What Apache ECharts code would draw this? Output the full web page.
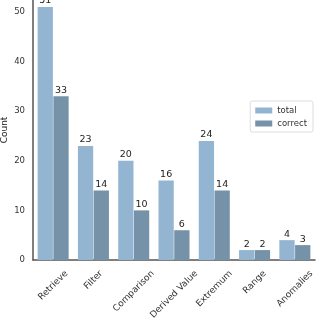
<!DOCTYPE html>
<html lang="en">
<head>
    <meta charset="UTF-8">
    <title>Count by task</title>
    <script src="https://cdn.jsdelivr.net/npm/echarts@6/dist/echarts.min.js"></script>
    <style>
        html, body { margin: 0; padding: 0; background: #fff; }
    </style>
</head>
<body>
    <div id="chart" style="width: 320px; height: 320px"></div>
    <script>
        var categories = ['Retrieve', 'Filter', 'Comparison', 'Derived Value', 'Extremum', 'Range', 'Anomalies'];
        var totalVals = [51, 23, 20, 16, 24, 2, 4];
        var correctVals = [33, 14, 10, 6, 14, 2, 3];
        var yTicks = [0, 10, 20, 30, 40, 50];

        var FONT = 'DejaVu Sans';
        var chart = echarts.init(document.getElementById('chart'));

        var labelStyle = {
            show: true,
            position: 'top',
            distance: 1,
            color: '#222',
            fontSize: 9.5,
            fontFamily: FONT
        };

        var option = {
            animation: false,
            textStyle: { fontFamily: FONT },
            grid: {
                left: 33,
                right: 5,
                top: 0,
                bottom: 60,
                outerBoundsMode: 'none'
            },
            legend: {
                right: 7,
                top: 101,
                orient: 'vertical',
                icon: 'rect',
                itemWidth: 17,
                itemHeight: 6,
                itemGap: 4,
                padding: [5, 6, 4, 5],
                borderColor: '#ddd',
                borderWidth: 1,
                borderRadius: 2,
                textStyle: { fontSize: 8.5, color: '#333', fontFamily: FONT },
                data: ['total', 'correct']
            },
            xAxis: {
                type: 'category',
                data: categories,
                axisLine: { lineStyle: { color: '#555', width: 1.5 } },
                axisTick: { show: false },
                // labels are drawn below, centred under each tick like matplotlib
                axisLabel: { show: false }
            },
            yAxis: {
                type: 'value',
                min: 0,
                max: 52.4,
                interval: 10,
                name: 'Count',
                nameLocation: 'middle',
                nameGap: 24,
                nameMoveOverlap: false,
                nameTextStyle: { fontSize: 9, color: '#222' },
                axisLine: { show: true, lineStyle: { color: '#555', width: 1.5 } },
                axisTick: { show: false },
                splitLine: { show: false },
                axisLabel: {
                    fontSize: 8.5,
                    color: '#333',
                    margin: 8,
                    showMaxLabel: false,
                    formatter: function(v) {
                        return yTicks.indexOf(v) >= 0 ? v : '';
                    }
                }
            },
            series: [{
                name: 'total',
                type: 'bar',
                data: totalVals,
                barGap: '3%',
                barCategoryGap: '23%',
                itemStyle: { color: '#93b5d1' },
                label: labelStyle
            }, {
                name: 'correct',
                type: 'bar',
                data: correctVals,
                barGap: '3%',
                barCategoryGap: '23%',
                itemStyle: { color: '#7692a8' },
                label: labelStyle
            }]
        };

        chart.setOption(option);

        // rotated x labels, bounding box centred under the tick
        var ctx = document.createElement('canvas').getContext('2d');
        ctx.font = '9px "' + FONT + '"';
        var axisY = chart.convertToPixel({ yAxisIndex: 0 }, 0);
        var labelEls = categories.map(function(c) {
            var x = chart.convertToPixel({ xAxisIndex: 0 }, c);
            var w = ctx.measureText(c).width;
            var half = (w + 9) * 0.7071 / 2;
            return {
                type: 'text',
                x: x,
                y: axisY + 9 + half,
                rotation: Math.PI / 4,
                silent: true,
                style: {
                    text: c,
                    fontSize: 9,
                    fontFamily: FONT,
                    fill: '#333',
                    align: 'center',
                    verticalAlign: 'middle'
                }
            };
        });
        chart.setOption({ graphic: labelEls });
    </script>
</body>
</html>
